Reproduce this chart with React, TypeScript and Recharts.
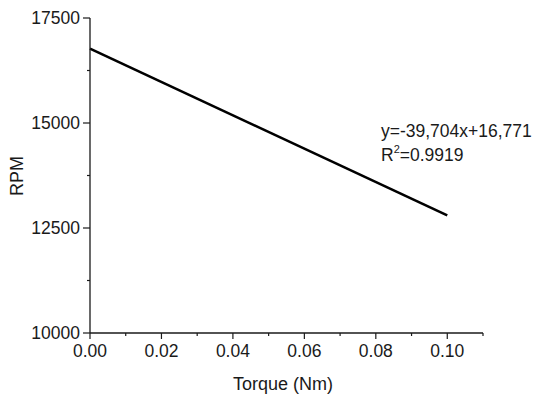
import { Line, LineChart, XAxis, YAxis } from "recharts";

// values
const torque = [0, 0.1];
const rpm = [16771, 12801];
const xMajorTicks = [0, 0.02, 0.04, 0.06, 0.08, 0.1];
const xMinorTicks = [0.01, 0.03, 0.05, 0.07, 0.09, 0.11];
const yMajorTicks = [10000, 12500, 15000, 17500];
const yMinorTicks = [11250, 13750, 16250];
const fitEquation = "y=-39,704x+16,771";
const rSquared = "=0.9919";

const data = torque.map((t, i) => ({ torque: t, rpm: rpm[i] }));
const xTicks = [...xMajorTicks, ...xMinorTicks].sort((a, b) => a - b);
const yTicks = [...yMajorTicks, ...yMinorTicks].sort((a, b) => a - b);

const font = "'Liberation Sans', Arial, sans-serif";
const ink = "#1a1a1a";

function XTick({ x, y, payload }: any) {
  const major = xMajorTicks.includes(payload.value);
  return (
    <g>
      <line x1={x} x2={x} y1={y} y2={y + (major ? 6 : 3)} stroke={ink} strokeWidth={1.2} />
      {major && (
        <text x={x} y={y + 24} textAnchor="middle" fontSize={17.5} fontFamily={font} fill={ink}>
          {payload.value.toFixed(2)}
        </text>
      )}
    </g>
  );
}

function YTick({ x, y, payload }: any) {
  const major = yMajorTicks.includes(payload.value);
  return (
    <g>
      <line x1={x} x2={x - (major ? 7 : 3)} y1={y} y2={y} stroke={ink} strokeWidth={1.2} />
      {major && (
        <text x={x - 10} y={y + 6} textAnchor="end" fontSize={17.5} fontFamily={font} fill={ink}>
          {payload.value}
        </text>
      )}
    </g>
  );
}

export default function App() {
  return (
    <div style={{ position: "absolute", left: 0, top: 0, width: 550, height: 401, background: "#fff" }}>
      <LineChart width={550} height={401} data={data} margin={{ top: 18, right: 67, left: 30, bottom: 18 }}>
        <XAxis
          dataKey="torque"
          type="number"
          domain={[0, 0.11]}
          ticks={xTicks}
          interval={0}
          height={50}
          tickSize={0}
          tickMargin={0}
          tickLine={false}
          tick={XTick}
          axisLine={{ stroke: ink, strokeWidth: 1.3 }}
        />
        <YAxis
          type="number"
          domain={[10000, 17500]}
          ticks={yTicks}
          interval={0}
          width={60}
          tickSize={0}
          tickMargin={0}
          tickLine={false}
          tick={YTick}
          axisLine={{ stroke: ink, strokeWidth: 1.3 }}
        />
        <Line
          dataKey="rpm"
          type="linear"
          stroke="#000"
          strokeWidth={2.6}
          dot={false}
          isAnimationActive={false}
        />
      </LineChart>
      <svg width={550} height={401} style={{ position: "absolute", left: 0, top: 0, pointerEvents: "none" }}>
        <text x={283} y={390} textAnchor="middle" fontSize={18} fontFamily={font} fill={ink}>
          Torque (Nm)
        </text>
        <text
          transform="translate(23,176) rotate(-90)"
          textAnchor="middle"
          fontSize={18}
          fontFamily={font}
          fill={ink}
        >
          RPM
        </text>
        <text x={381} y={137} fontSize={17.5} fontFamily={font} fill={ink}>
          {fitEquation}
        </text>
        <text x={381} y={161} fontSize={17.5} fontFamily={font} fill={ink}>
          R
          <tspan fontSize={11} dy={-8}>2</tspan>
          <tspan dy={8}>{rSquared}</tspan>
        </text>
      </svg>
    </div>
  );
}
